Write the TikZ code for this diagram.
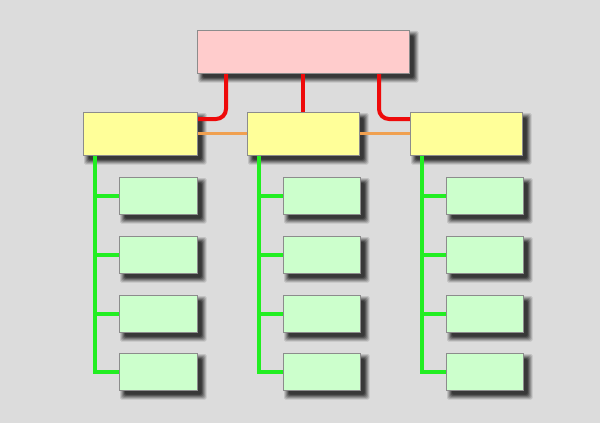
\documentclass[tikz,border=0pt]{standalone}
\usetikzlibrary{calc,backgrounds}
\pgfdeclarelayer{bg}
\pgfsetlayers{bg,background,main}
\definecolor{bgray}{HTML}{DCDCDC}
\definecolor{pinkfill}{HTML}{FFCCCC}
\definecolor{yellowfill}{HTML}{FFFF99}
\definecolor{greenfill}{HTML}{CCFFCC}
\definecolor{redline}{HTML}{EE0A0A}
\definecolor{greenline}{HTML}{22EE22}
\definecolor{orangeline}{HTML}{F0A050}
\tikzset{
  boxbase/.style={draw=black!45, line width=0.6pt, inner sep=0pt, anchor=north west},
  topbox/.style={boxbase, fill=pinkfill, minimum width=212pt, minimum height=43pt},
  midbox/.style={boxbase, fill=yellowfill, minimum height=43pt},
  leafbox/.style={boxbase, fill=greenfill, minimum height=37pt},
  redconn/.style={draw=redline, line width=4pt, rounded corners=10pt},
  greenconn/.style={draw=greenline, line width=4pt},
  orangeconn/.style={draw=orangeline, line width=3pt},
}
\newcommand\mkshadow[1]{%
  \foreach \k/\o in {4/0.12,3/0.15,2/0.18,1/0.22,0/0.28,-1/0.25}{%
    \fill[black,opacity=\o,rounded corners=1.5pt] ($(#1.south west)+(5-\k,5+\k)$) rectangle ($(#1.north east)+(5+\k,5-\k)$);}}
\begin{document}
\begin{tikzpicture}[x=1pt,y=-1pt]
\useasboundingbox (0,0) rectangle (600,444);
\begin{pgfonlayer}{bg}
  \fill[bgray] (0,0) rectangle (600,444);
  \fill[white] (0,423) rectangle (600,444);
\end{pgfonlayer}
% boxes
\node[topbox] (top) at (197,30) {};
\node[midbox, minimum width=114pt] (L) at (83,112) {};
\node[midbox, minimum width=112pt] (M) at (247,112) {};
\node[midbox, minimum width=112pt] (R) at (410,112) {};
\foreach \c/\x/\w in {L/119/78, M/283/77, R/446/77}{
  \foreach \r/\y in {1/177,2/236,3/295,4/353}{
    \node[leafbox, minimum width=\w pt] (\c\r) at (\x,\y) {};
  }
}
% coordinates for connectors
\coordinate (ra) at (226,119);
\coordinate (rb) at (379,119);
\coordinate (gL) at (95,0);
\coordinate (gM) at (259,0);
\coordinate (gR) at (422,0);
\begin{pgfonlayer}{background}
  \foreach \n in {top,L,M,R,L1,L2,L3,L4,M1,M2,M3,M4,R1,R2,R3,R4}{\mkshadow{\n}}
  % orange links
  \draw[orangeconn] (L.east) -- (M.west);
  \draw[orangeconn] (M.east) -- (R.west);
  % red links
  \draw[redconn] (top.south -| ra) |- (L.east |- ra);
  \draw[redconn] (top.south) -- (M.north);
  \draw[redconn] (top.south -| rb) |- (R.west |- rb);
  % green trees
  \foreach \c in {L,M,R}{
    \draw[greenconn] (\c.south -| g\c) |- (\c4.west);
    \foreach \r in {1,2,3}{
      \draw[greenconn] (g\c |- \c\r.west) -- (\c\r.west);
    }
  }
\end{pgfonlayer}
\end{tikzpicture}
\end{document}
